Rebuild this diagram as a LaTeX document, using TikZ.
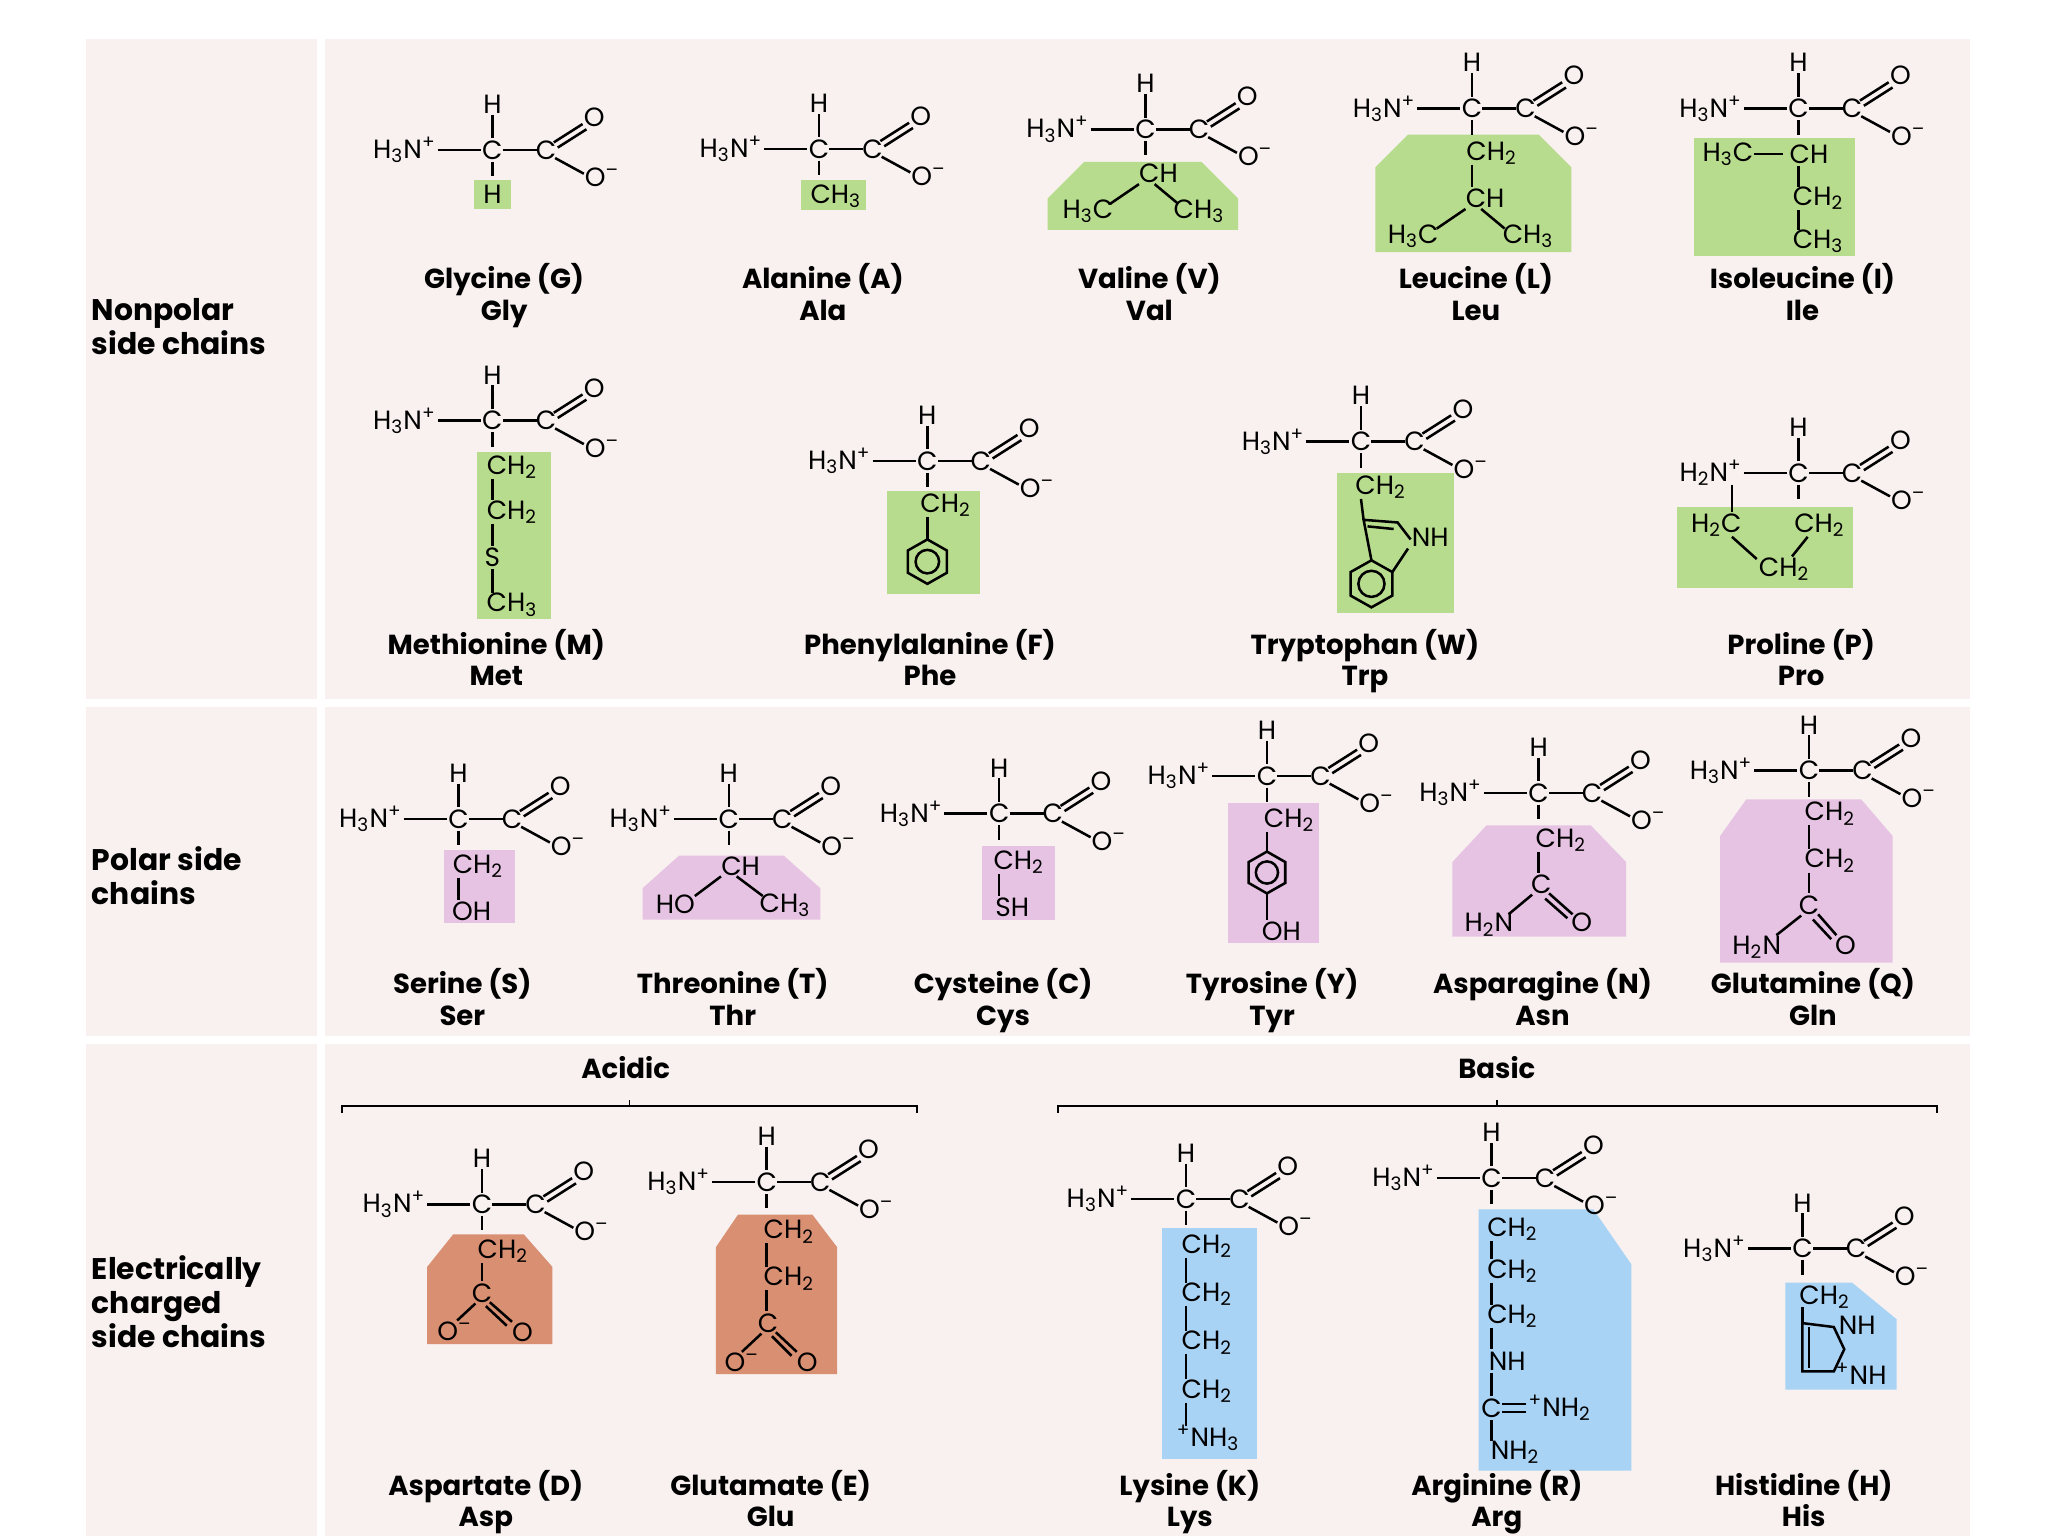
\documentclass[tikz,border=0pt]{standalone}
\usepackage{fontspec}
\setmainfont{Poppins}
\newcommand\sbs[1]{\textsubscript{#1}}
\newcommand\spp{\textsuperscript{+}}
\newcommand\omin{O\textsuperscript{–}}
\definecolor{panel}{HTML}{F8F1F0}
\definecolor{gr}{HTML}{B8DC8E}
\definecolor{pk}{HTML}{E6C3E3}
\definecolor{og}{HTML}{D98F72}
\definecolor{bl}{HTML}{A9D3F5}
\tikzset{t/.style={inner sep=0pt,font=\fontsize{11.5}{12}\selectfont},
 b/.style={line width=1.1pt},
 nm/.style={inner sep=0pt,anchor=base,font=\fontsize{12}{13.6}\selectfont\bfseries},
 sec/.style={inner sep=0pt,align=left,anchor=north west,font=\fontsize{13}{14.8}\selectfont\bfseries}}
\newcommand\amino[3][H\sbs{3}N\spp]{%
 \node[t,anchor=east] at ({#2-43},#3) {#1};
 \draw[b] ({#2-42},#3) -- ({#2-9},#3);
 \node[t] at (#2,#3) {C};
 \node[t] at (#2,{#3-35}) {H};
 \draw[b] (#2,{#3-27}) -- (#2,{#3-9});
 \draw[b] ({#2+8},#3) -- ({#2+34},#3);
 \node[t] at ({#2+41},#3) {C};
 \draw[b] ({#2+47},{#3-6}) -- ({#2+69},{#3-20});
 \draw[b] ({#2+50},{#3-2}) -- ({#2+72},{#3-16});
 \node[t] at ({#2+78},{#3-25}) {O};
 \draw[b] ({#2+48},{#3+6}) -- ({#2+70},{#3+18});
 \node[t] at ({#2+84},{#3+21}) {\omin};
 \draw[b] (#2,{#3+9}) -- (#2,{#3+20});
}
\newcommand\vb[3]{\draw[b] (#1,{#2+9}) -- (#1,{#3-9});}
\newcommand\nmm[4]{\node[nm] at (#1,{#2+6}) {#3}; \node[nm] at (#1,{#2+30}) {#4};}
\begin{document}
\begin{tikzpicture}[x=0.02cm,y=-0.02cm]
\useasboundingbox (0,0) rectangle (1568,1176);
% panels
\fill[panel] (66,30) rectangle (243,535);
\fill[panel] (249,30) rectangle (1508,535);
\fill[panel] (66,541) rectangle (243,793);
\fill[panel] (249,541) rectangle (1508,793);
\fill[panel] (66,799) rectangle (243,1176);
\fill[panel] (249,799) rectangle (1508,1176);
\node[sec] (s1) at (70,228) {Nonpolar\\side chains};
\node[sec] (s2) at (70,648) {Polar side\\chains};
\node[sec] (s3) at (70,961) {Electrically\\charged\\side chains};
% colored side-chain shapes
\fill[gr] (363,138) rectangle (391,160);
\fill[gr] (613,138) rectangle (663,161);
\fill[gr] (802,176) -- (802,152) -- (830,124) -- (920,124) -- (948,152) -- (948,176) -- cycle;
\fill[gr] (1053,193) -- (1053,128) -- (1078,103) -- (1178,103) -- (1203,128) -- (1203,193) -- cycle;
\fill[gr] (1297,106) rectangle (1420,196);
\fill[gr] (365,346) rectangle (422,474);
\fill[gr] (679,376) rectangle (750,455);
\fill[gr] (1024,362) rectangle (1113,469);
\fill[gr] (1284,388) rectangle (1419,450);
\fill[pk] (340,651) rectangle (394,707);
\fill[pk] (492,704) -- (492,680) -- (520,655) -- (600,655) -- (628,680) -- (628,704) -- cycle;
\fill[pk] (752,648) rectangle (808,704);
\fill[pk] (940,615) rectangle (1010,722);
\fill[pk] (1112,717) -- (1112,660) -- (1138,632) -- (1218,632) -- (1245,660) -- (1245,717) -- cycle;
\fill[pk] (1317,737) -- (1317,640) -- (1337,612) -- (1425,612) -- (1449,640) -- (1449,737) -- cycle;
\fill[og] (327,1029) -- (327,970) -- (347,945) -- (401,945) -- (423,970) -- (423,1029) -- cycle;
\fill[og] (548,1052) -- (548,955) -- (565,930) -- (622,930) -- (641,955) -- (641,1052) -- cycle;
\fill[bl] (890,940) rectangle (962,1117);
\fill[bl] (1132,1126) -- (1132,926) -- (1220,926) -- (1249,968) -- (1249,1126) -- cycle;
\fill[bl] (1367,1064) -- (1367,982) -- (1418,982) -- (1452,1010) -- (1452,1064) -- cycle;
% Row 1
\amino{377}{115} \node[t] at (377,149) {H};
\amino{627}{114} \node[t] at (640,150) {CH\sbs{3}};
\amino{877}{99} \node[t] at (887,133) {CH};
\node[t] at (833,162) {H\sbs{3}C}; \node[t] at (918,162) {CH\sbs{3}};
\draw[b] (872,141) -- (850,156); \draw[b] (884,141) -- (902,156);
\amino{1127}{83} \node[t] at (1142,117) {CH\sbs{2}}; \vb{1127}{117}{152}
\node[t] at (1137,152) {CH};
\node[t] at (1082,181) {H\sbs{3}C}; \node[t] at (1170,181) {CH\sbs{3}};
\draw[b] (1122,160) -- (1100,175); \draw[b] (1134,160) -- (1152,175);
\amino{1377}{83} \node[t] at (1323,118) {H\sbs{3}C}; \draw[b] (1343,118) -- (1365,118);
\node[t] at (1385,118) {CH}; \vb{1377}{118}{152}
\node[t] at (1392,152) {CH\sbs{2}}; \vb{1377}{152}{185}
\node[t] at (1392,185) {CH\sbs{3}};
\nmm{386}{215}{Glycine (G)}{Gly}
\nmm{630}{215}{Alanine (A)}{Ala}
\nmm{880}{215}{Valine (V)}{Val}
\nmm{1130}{215}{Leucine (L)}{Leu}
\nmm{1380}{215}{Isoleucine (I)}{Ile}
% Row 2
\amino{377}{322} \node[t] at (392,358) {CH\sbs{2}}; \vb{377}{358}{392}
\node[t] at (392,392) {CH\sbs{2}}; \vb{377}{392}{427}
\node[t] at (377,427) {S}; \vb{377}{427}{463}
\node[t] at (392,463) {CH\sbs{3}};
\amino{710}{353} \node[t] at (724,387) {CH\sbs{2}}; \draw[b] (710,396) -- (710,413);
\draw[b] (710,430) +(0,-17) -- +(15,-8.5) -- +(15,8.5) -- +(0,17) -- +(-15,8.5) -- +(-15,-8.5) -- cycle;
\draw[b] (710,430) circle[radius=0.18cm];
\amino{1042}{338} \node[t] at (1057,373) {CH\sbs{2}}; \draw[b] (1042,382) -- (1044,398);
\draw[b] (1050,429) -- (1066,438) -- (1066,456) -- (1050,465) -- (1034,456) -- (1034,438) -- cycle;
\draw[b] (1050,447) circle[radius=0.2cm];
\draw[b] (1050,429) -- (1044,398) -- (1070,400) -- (1080,413);
\draw[b] (1047,403) -- (1067,405);
\draw[b] (1066,438) -- (1078,420);
\node[t] at (1095,411) {NH};
\amino[H\sbs{2}N\spp]{1377}{362} \draw[b] (1326,371) -- (1326,392);
\node[t] at (1314,402) {H\sbs{2}C}; \node[t] at (1393,402) {CH\sbs{2}};
\node[t] at (1366,436) {CH\sbs{2}};
\draw[b] (1326,411) -- (1345,428); \draw[b] (1384,411) -- (1372,426);
\nmm{380}{495}{Methionine (M)}{Met}
\nmm{712}{495}{Phenylalanine (F)}{Phe}
\nmm{1045}{495}{Tryptophan (W)}{Trp}
\nmm{1379}{495}{Proline (P)}{Pro}
% Polar
\amino{351}{627} \node[t] at (366,663) {CH\sbs{2}}; \vb{351}{663}{698}
\node[t] at (361,698) {OH};
\amino{558}{627} \node[t] at (567,663) {CH};
\node[t] at (517,692) {HO}; \node[t] at (601,693) {CH\sbs{3}};
\draw[b] (552,671) -- (532,686); \draw[b] (564,671) -- (584,686);
\amino{765}{623} \node[t] at (780,660) {CH\sbs{2}}; \vb{765}{660}{695}
\node[t] at (775,695) {SH};
\amino{970}{594} \node[t] at (987,628) {CH\sbs{2}}; \draw[b] (970,637) -- (970,652);
\draw[b] (970,668) +(0,-16) -- +(14,-8) -- +(14,8) -- +(0,16) -- +(-14,8) -- +(-14,-8) -- cycle;
\draw[b] (970,668) circle[radius=0.17cm]; \draw[b] (970,684) -- (970,704);
\node[t] at (981,713) {OH};
\amino{1178}{607} \node[t] at (1195,643) {CH\sbs{2}}; \vb{1178}{643}{677}
\node[t] at (1180,677) {C};
\node[t] at (1140,708) {H\sbs{2}N}; \node[t] at (1211,706) {O};
\draw[b] (1173,685) -- (1155,700); \draw[b] (1186,684) -- (1204,700); \draw[b] (1183,688) -- (1200,703);
\amino{1385}{590} \node[t] at (1401,623) {CH\sbs{2}}; \vb{1385}{623}{659}
\node[t] at (1401,659) {CH\sbs{2}}; \vb{1385}{659}{693}
\node[t] at (1385,693) {C};
\node[t] at (1345,725) {H\sbs{2}N}; \node[t] at (1413,724) {O};
\draw[b] (1379,701) -- (1360,716); \draw[b] (1392,700) -- (1406,716); \draw[b] (1388,704) -- (1402,719);
\nmm{354}{755}{Serine (S)}{Ser}
\nmm{561}{755}{Threonine (T)}{Thr}
\nmm{768}{755}{Cysteine (C)}{Cys}
\nmm{974}{755}{Tyrosine (Y)}{Tyr}
\nmm{1181}{755}{Asparagine (N)}{Asn}
\nmm{1388}{755}{Glutamine (Q)}{Gln}
% Charged
\node[nm] (ac) at (479,826) {Acidic};
\node[nm] (ba) at (1146,826) {Basic};
\draw[line width=0.8pt] (262,852) -- (262,847) -- (702,847) -- (702,852);
\draw[line width=0.8pt] (482,847) -- (482,842);
\draw[line width=0.8pt] (810,852) -- (810,847) -- (1483,847) -- (1483,852);
\draw[line width=0.8pt] (1146,847) -- (1146,842);
\amino{369}{922} \node[t] at (385,958) {CH\sbs{2}}; \vb{369}{958}{990}
\node[t] at (369,990) {C};
\node[t] at (348,1019) {\omin}; \node[t] at (400,1020) {O};
\draw[b] (364,998) -- (350,1011); \draw[b] (375,997) -- (392,1012); \draw[b] (372,1000) -- (388,1015);
\amino{587}{905} \node[t] at (604,943) {CH\sbs{2}}; \vb{587}{943}{979}
\node[t] at (604,979) {CH\sbs{2}}; \vb{587}{979}{1013}
\node[t] at (588,1013) {C};
\node[t] at (568,1043) {\omin}; \node[t] at (618,1043) {O};
\draw[b] (583,1021) -- (568,1035); \draw[b] (594,1020) -- (610,1035); \draw[b] (591,1023) -- (606,1038);
\amino{908}{918} \node[t] at (924,954) {CH\sbs{2}}; \vb{908}{954}{991}
\node[t] at (924,991) {CH\sbs{2}}; \vb{908}{991}{1028}
\node[t] at (924,1028) {CH\sbs{2}}; \vb{908}{1028}{1065}
\node[t] at (924,1065) {CH\sbs{2}}; \vb{908}{1065}{1101}
\node[t] at (925,1101) {\textsuperscript{+}NH\sbs{3}};
\amino{1142}{902} \node[t] at (1158,941) {CH\sbs{2}}; \vb{1142}{941}{973}
\node[t] at (1158,973) {CH\sbs{2}}; \vb{1142}{973}{1008}
\node[t] at (1158,1008) {CH\sbs{2}}; \vb{1142}{1008}{1042}
\node[t] at (1154,1042) {NH}; \vb{1142}{1042}{1078}
\node[t] at (1142,1078) {C}; \draw[b] (1150,1075) -- (1168,1075); \draw[b] (1150,1081) -- (1168,1081);
\node[t,anchor=west] at (1170,1078) {\textsuperscript{+}NH\sbs{2}}; \vb{1142}{1078}{1112}
\node[t] at (1160,1112) {NH\sbs{2}};
\amino{1380}{956} \node[t] at (1397,993) {CH\sbs{2}}; \draw[b] (1380,1001) -- (1380,1013);
\draw[b] (1380,1013) -- (1404,1016) -- (1412,1033) -- (1404,1050) -- (1380,1050) -- cycle;
\draw[b] (1385,1016) -- (1385,1047);
\node[t] at (1422,1015) {NH}; \node[t] at (1425,1052) {\textsuperscript{+}NH};
\nmm{372}{1139}{Aspartate (D)}{Asp}
\nmm{590}{1139}{Glutamate (E)}{Glu}
\nmm{911}{1139}{Lysine (K)}{Lys}
\nmm{1146}{1139}{Arginine (R)}{Arg}
\nmm{1381}{1139}{Histidine (H)}{His}
\end{tikzpicture}
\end{document}
